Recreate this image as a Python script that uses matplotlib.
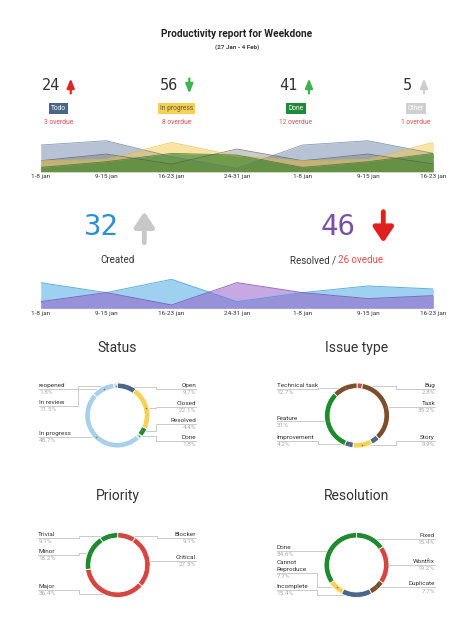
import matplotlib
matplotlib.use('Agg')
import matplotlib.pyplot as plt
import numpy as np

plt.rcParams['font.family'] = ['Roboto', 'DejaVu Sans']

# ---------------- data ----------------
weeks = ['1-8 jan', '9-15 jan', '16-23 jan', '24-31 jan', '1-8 jan', '9-15 jan', '16-23 jan']

state_names = ['Todo', 'In progress', 'Done', 'Other']
state_counts = [24, 56, 41, 5]
state_trend = ['up', 'down', 'up', 'up']
state_overdue = [3, 8, 12, 1]

todo_series = [80, 93, 45, 10, 80, 93, 55]
progress_series = [33, 37, 88, 47, 33, 37, 88]
done_series = [13, 30, 55, 50, 13, 30, 55]
other_series = [33, 53, 23, 68, 33, 53, 23]

created_total = 32
resolved_total = 46
resolved_overdue = 26
created_series = [77, 47, 87, 20, 47, 67, 58]
resolved_series = [20, 47, 10, 77, 47, 29, 38]

status_labels = ['Open', 'Closed', 'Resolved', 'Done', 'In progress', 'In review', 'reopened']
status_pct = [9.7, 22.1, 4.4, 1.8, 48.7, 11.5, 1.8]

issue_labels = ['Bug', 'Task', '', 'Story', 'Improvement', 'Feature', 'Technical task']
issue_pct = [2.8, 35.2, 4.2, 9.9, 4.2, 31, 12.7]

priority_labels = ['Blocker', 'Critical', 'Major', 'Minor', 'Trivial']
priority_pct = [9.1, 27.3, 36.4, 18.2, 9.1]

resolution_labels = ['Fixed', 'Wontfix', 'Duplicate', 'Incomplete', 'Cannot\nReproduce', 'Done']
resolution_pct = [15.4, 19.2, 7.7, 15.4, 7.7, 34.6]

# ---------------- styles ----------------
BLUEGREY = '#4a6589'
YELLOW = '#f9d050'
GREEN = '#1d8a2e'
RED = '#d64541'
BROWN = '#7b4f2c'
LBLUE = '#a9d0ea'
OVERDUE = '#e05050'

status_colors = [BLUEGREY, YELLOW, GREEN, '#bfe3bf', LBLUE, LBLUE, '#c4dff0']
issue_colors = [RED, BROWN, BLUEGREY, YELLOW, BLUEGREY, GREEN, BROWN]
priority_colors = [RED, RED, RED, GREEN, GREEN]
resolution_colors = [GREEN, RED, BROWN, BLUEGREY, YELLOW, GREEN]

W, H = 474, 630
fig = plt.figure(figsize=(W / 100, H / 100), dpi=100)
fig.patch.set_facecolor('white')

ax = fig.add_axes([0, 0, 1, 1])
ax.set_xlim(0, W)
ax.set_ylim(H, 0)
ax.axis('off')

# ---------------- header ----------------
ax.text(237, 34, 'Productivity report for Weekdone', ha='center', va='center',
        fontsize=7.3, fontweight='bold', color='#222')
ax.text(237, 47.5, '(27 Jan - 4 Feb)', ha='center', va='center',
        fontsize=4.5, fontweight='bold', color='#444')

num_x = [50.8, 169.5, 288.3, 407.7]
arrow_x = [70.7, 189.3, 309.0, 424.0]
lab_x = [58.3, 176.7, 296.0, 415.7]
arrow_col = ['#e02424', '#3cb44b', '#3cb44b', '#cccccc']
box_fc = [BLUEGREY, YELLOW, '#1e8b3a', '#cfcfcf']
box_tc = ['white', '#555', 'white', 'white']

def arrow(x, ytop, ybot, direction, color, lw, ms, hl, hw):
    if direction == 'up':
        tip, tail = (x, ytop), (x, ybot)
    else:
        tip, tail = (x, ybot), (x, ytop)
    ax.annotate('', xy=tip, xytext=tail,
                arrowprops=dict(arrowstyle='-|>,head_length=%g,head_width=%g' % (hl, hw),
                                color=color, lw=lw, mutation_scale=ms,
                                shrinkA=0, shrinkB=0))

for i in range(4):
    ax.text(num_x[i], 86, str(state_counts[i]), ha='center', va='center',
            fontsize=11, family='DejaVu Sans Mono', color='#333')
    arrow(arrow_x[i], 78.5, 93.5, state_trend[i], arrow_col[i], 1.6, 10, 0.55, 0.22)
    ax.text(lab_x[i], 108, state_names[i], ha='center', va='center', fontsize=4.8,
            color=box_tc[i], bbox=dict(boxstyle='square,pad=0.3', fc=box_fc[i], ec='none'))
    ax.text(lab_x[i], 122.3, '%d overdue' % state_overdue[i], ha='center', va='center',
            fontsize=4.9, color=OVERDUE)

# ---------------- area chart helper ----------------
X0, X1 = 40.7, 433.3

def area_axes(y_base, units=102):
    a = fig.add_axes([X0 / W, 1 - y_base / H, (X1 - X0) / W, units / 3 / H])
    a.set_xlim(0, len(weeks) - 1)
    a.set_ylim(0, units)
    a.patch.set_alpha(0)
    for s in a.spines.values():
        s.set_visible(False)
    a.set_yticks([])
    a.set_xticks(range(len(weeks)))
    a.set_xticklabels(weeks, fontsize=4.6, color='#333')
    a.tick_params(axis='x', length=0, pad=1.6)
    return a

xs = np.arange(len(weeks))
a1 = area_axes(171.7)
for ser, col, al, lc in [(todo_series, '#6a83a6', 0.48, '#5b7190'),
                         (other_series, '#555555', 0.30, '#555555'),
                         (progress_series, '#f5c842', 0.48, '#e0b840'),
                         (done_series, '#1f7a1f', 0.58, '#2d6b2d')]:
    a1.fill_between(xs, ser, color=col, alpha=al, lw=0)
    a1.plot(xs, ser, color=lc, lw=0.6, alpha=0.7)

# ---------------- created / resolved ----------------
ax.text(101, 227.3, str(created_total), ha='center', va='center', fontsize=21,
        family='DejaVu Sans Mono', color='#2b8fd6')
arrow(144.3, 211.7, 242.7, 'up', '#c8c8c8', 3.5, 20, 0.45, 0.3)
ax.text(338.3, 227.3, str(resolved_total), ha='center', va='center', fontsize=21,
        family='DejaVu Sans Mono', color='#7b4fa8')
arrow(383.3, 211.7, 242.7, 'down', '#e02020', 3.5, 20, 0.45, 0.3)
ax.text(117.3, 260, 'Created', ha='center', va='center', fontsize=7, color='#333')
ax.text(336, 260, 'Resolved /', ha='right', va='center', fontsize=7, color='#333')
ax.text(338.5, 260, '%d ovedue' % resolved_overdue, ha='left', va='center',
        fontsize=7, color=OVERDUE)

a2 = area_axes(308.3, 100)
a2.fill_between(xs, created_series, color='#3fa5e1', alpha=0.5, lw=0)
a2.plot(xs, created_series, color='#3a9ad8', lw=0.7, alpha=0.8)
a2.fill_between(xs, resolved_series, color='#9252c6', alpha=0.5, lw=0)
a2.plot(xs, resolved_series, color='#7a4ab0', lw=0.7, alpha=0.8)

# ---------------- donuts ----------------
R = 32.5
RW = 5.5

def donut(cx, cy, title, title_y, labels, pct, colors, lx, rx):
    ax.text(cx, title_y, title, ha='center', va='center', fontsize=10, color='#333')
    box = 37
    pax = fig.add_axes([(cx - box) / W, 1 - (cy + box) / H, 2 * box / W, 2 * box / H])
    pax.pie(pct, radius=R, startangle=90, counterclock=False, colors=colors,
            wedgeprops=dict(width=RW, edgecolor='white', linewidth=0.6))
    pax.set_xlim(-box, box)
    pax.set_ylim(-box, box)
    pax.set_aspect('equal')
    pax.axis('off')
    total = float(sum(pct))
    cum = np.concatenate([[0], np.cumsum(pct)]) / total * 360
    mids = (cum[:-1] + cum[1:]) / 2
    sides = {'L': [], 'R': []}
    for lab, p, m in zip(labels, pct, mids):
        if not lab:
            continue
        th = np.radians(m)
        px = cx + (R - RW / 2) * np.sin(th)
        py = cy - (R - RW / 2) * np.cos(th)
        pax.plot(px - cx, cy - py, 'o', ms=1.1, color='#777', mec='none')
        ex = cx + R * np.sin(th)
        sides['R' if m < 180 else 'L'].append([py, ex, lab, p])
    for side, ents in sides.items():
        ents.sort(key=lambda e: e[0])
        lo, hi = cy - 27, cy + 25
        ys = [min(max(e[0], lo), hi) for e in ents]
        for i in range(1, len(ys)):
            ys[i] = max(ys[i], ys[i - 1] + 17)
        if ys and ys[-1] > hi:
            ys[-1] = hi
            for i in range(len(ys) - 2, -1, -1):
                ys[i] = min(ys[i], ys[i + 1] - 17)
        for e, yl in zip(ents, ys):
            py, ex, lab, p = e
            if side == 'L':
                x0, xe, ha = lx, cx - 39, 'left'
            else:
                x0, xe, ha = rx, cx + 39, 'right'
            ax.plot([x0, xe, xe, ex], [yl, yl, py, py], color='#c2c2c2', lw=0.6)
            ax.text(x0, yl - 0.8, lab, ha=ha, va='bottom', fontsize=4.6, color='#333',
                    linespacing=1.5)
            ax.text(x0, yl + 1.3, '%s%%' % p, ha=ha, va='top', fontsize=4.6, color='#aaa')

donut(117.3, 415.5, 'Status', 348.3, status_labels, status_pct, status_colors, 39, 196)
donut(357.0, 415.5, 'Issue type', 348.3, issue_labels, issue_pct, issue_colors, 276.7, 435)
donut(117.7, 565.0, 'Priority', 496.0, priority_labels, priority_pct, priority_colors, 38.3, 196)
donut(356.5, 565.0, 'Resolution', 496.0, resolution_labels, resolution_pct, resolution_colors, 276.7, 435)

fig.savefig('out.png', dpi=100, facecolor='white')
